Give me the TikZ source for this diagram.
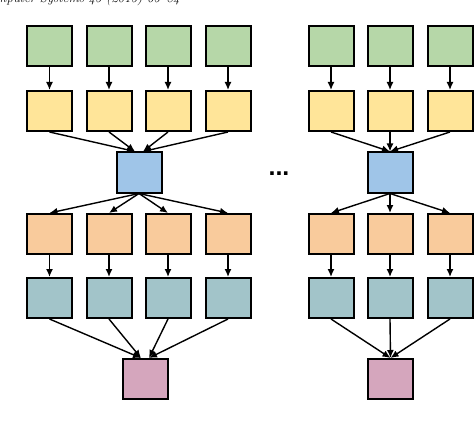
\documentclass[tikz,border=0pt]{standalone}
\usepackage{fontspec}
\usepackage{tikz}
\usetikzlibrary{arrows.meta}
\newfontfamily\dotsfont{Liberation Sans}

\definecolor{boxgreen}{HTML}{B6D7A8}
\definecolor{boxyellow}{HTML}{FFE599}
\definecolor{boxblue}{HTML}{9FC5E8}
\definecolor{boxorange}{HTML}{F9CB9C}
\definecolor{boxteal}{HTML}{A2C4C9}
\definecolor{boxpink}{HTML}{D5A6BD}

\begin{document}
\begin{tikzpicture}[x=1pt, y=-1pt,
    box/.style={draw, line width=2pt, minimum width=45pt, minimum height=40pt, inner sep=0pt},
    arr/.style={-{Latex[length=8pt,width=7pt]}, line width=1.4pt}]
    \useasboundingbox (0,0) rectangle (474,425);
    \clip (0,0) rectangle (474,425);

    % clipped page header
    \node[anchor=base west, inner sep=0pt, font=\itshape\fontsize{13}{15}\selectfont] (head) at (-4,3) {mputer Systems 45 (2015) 65--84};

    % left group
    \node[box, fill=boxgreen] (a1) at (49.5,46) {};
    \node[box, fill=boxgreen] (a2) at (109,46) {};
    \node[box, fill=boxgreen] (a3) at (168,46) {};
    \node[box, fill=boxgreen] (a4) at (228,46) {};
    \node[box, fill=boxyellow] (b1) at (49.5,111) {};
    \node[box, fill=boxyellow] (b2) at (109,111) {};
    \node[box, fill=boxyellow] (b3) at (168,111) {};
    \node[box, fill=boxyellow] (b4) at (228,111) {};
    \node[box, fill=boxblue] (c) at (139,172.5) {};
    \node[box, fill=boxorange] (d1) at (49.5,234) {};
    \node[box, fill=boxorange] (d2) at (109,234) {};
    \node[box, fill=boxorange] (d3) at (168,234) {};
    \node[box, fill=boxorange] (d4) at (228,234) {};
    \node[box, fill=boxteal] (e1) at (49.5,298) {};
    \node[box, fill=boxteal] (e2) at (109,298) {};
    \node[box, fill=boxteal] (e3) at (168,298) {};
    \node[box, fill=boxteal] (e4) at (228,298) {};
    \node[box, fill=boxpink] (f) at (145,379) {};

    \draw[arr] (a1) -- (b1);
    \draw[arr] (a2) -- (b2);
    \draw[arr] (a3) -- (b3);
    \draw[arr] (a4) -- (b4);
    \draw[arr] (b1.south) -- ([xshift=-4pt]c.north);
    \draw[arr] (b2.south) -- ([xshift=-4pt]c.north);
    \draw[arr] (b3.south) -- ([xshift=4pt]c.north);
    \draw[arr] (b4.south) -- ([xshift=4pt]c.north);
    \draw[arr] (c.south) -- (d1.north);
    \draw[arr] (c.south) -- (d2.north);
    \draw[arr] (c.south) -- (d3.north);
    \draw[arr] (c.south) -- (d4.north);
    \draw[arr] (d1) -- (e1);
    \draw[arr] (d2) -- (e2);
    \draw[arr] (d3) -- (e3);
    \draw[arr] (d4) -- (e4);
    \draw[arr] (e1.south) -- ([xshift=-4pt]f.north);
    \draw[arr] (e2.south) -- ([xshift=-4pt]f.north);
    \draw[arr] (e3.south) -- ([xshift=4pt]f.north);
    \draw[arr] (e4.south) -- ([xshift=4pt]f.north);

    \node[font=\dotsfont\bfseries\fontsize{25}{25}\selectfont, inner sep=0pt] (dots) at (279,174) {...};

    % right group
    \node[box, fill=boxgreen] (ra1) at (331,46) {};
    \node[box, fill=boxgreen] (ra2) at (390,46) {};
    \node[box, fill=boxgreen] (ra3) at (450,46) {};
    \node[box, fill=boxyellow] (rb1) at (331,111) {};
    \node[box, fill=boxyellow] (rb2) at (390,111) {};
    \node[box, fill=boxyellow] (rb3) at (450,111) {};
    \node[box, fill=boxblue] (rc) at (390,172.5) {};
    \node[box, fill=boxorange] (rd1) at (331,234) {};
    \node[box, fill=boxorange] (rd2) at (390,234) {};
    \node[box, fill=boxorange] (rd3) at (450,234) {};
    \node[box, fill=boxteal] (re1) at (331,298) {};
    \node[box, fill=boxteal] (re2) at (390,298) {};
    \node[box, fill=boxteal] (re3) at (450,298) {};
    \node[box, fill=boxpink] (rf) at (390.5,379) {};

    \draw[arr] (ra1) -- (rb1);
    \draw[arr] (ra2) -- (rb2);
    \draw[arr] (ra3) -- (rb3);
    \draw[arr] (rb1.south) -- (rc.north);
    \draw[arr] (rb2.south) -- (rc.north);
    \draw[arr] (rb3.south) -- (rc.north);
    \draw[arr] (rc.south) -- (rd1.north);
    \draw[arr] (rc.south) -- (rd2.north);
    \draw[arr] (rc.south) -- (rd3.north);
    \draw[arr] (rd1) -- (re1);
    \draw[arr] (rd2) -- (re2);
    \draw[arr] (rd3) -- (re3);
    \draw[arr] (re1.south) -- (rf.north);
    \draw[arr] (re2.south) -- (rf.north);
    \draw[arr] (re3.south) -- (rf.north);
\end{tikzpicture}
\end{document}
